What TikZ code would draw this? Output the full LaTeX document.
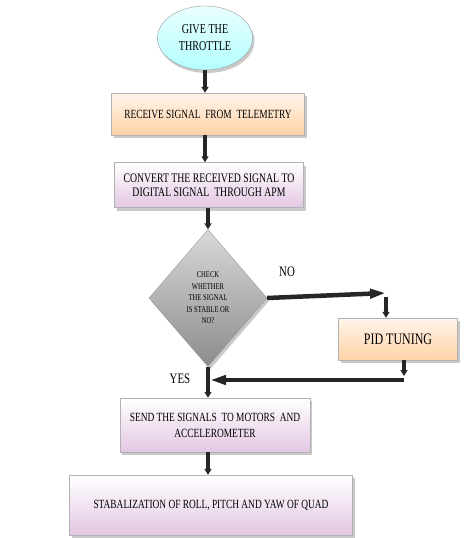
\documentclass[tikz,border=0pt]{standalone}
\usepackage{fontspec}
\setmainfont[FakeStretch=0.75]{Liberation Serif}
\usetikzlibrary{arrows.meta,shapes.geometric,shadows}
\tikzset{
  boxshadow/.style={drop shadow={shadow xshift=2pt,shadow yshift=-3pt,fill=black!35,opacity=.6}},
  orangebox/.style={draw=black!30,thin,rectangle,top color=orange!8,bottom color=orange!35!white,boxshadow,align=center,font=\fontsize{12.5}{14}\selectfont,inner sep=0pt},
  purplebox/.style={draw=black!30,thin,rectangle,top color=white,bottom color=violet!22!white,boxshadow,align=center,font=\fontsize{13}{14}\selectfont,inner sep=0pt},
  startell/.style={draw=black!40,thin,ellipse,top color=cyan!8,bottom color=cyan!30!white,boxshadow,align=center,font=\fontsize{13.5}{17}\selectfont,inner sep=0pt},
  decision/.style={draw=black!40,thin,diamond,top color=black!15,bottom color=black!45,shading angle=0,boxshadow,align=center,font=\fontsize{8.8}{11.5}\selectfont,inner sep=0pt,aspect=0.86},
  varrow/.style={-{Triangle[length=6pt,width=7pt]},line width=3.2pt,black!85},
  harrow/.style={-{Triangle[length=16pt,width=9pt]},line width=4.5pt,black!85},
  lbl/.style={font=\fontsize{14.5}{16}\selectfont}
}
\begin{document}
\begin{tikzpicture}[x=1pt,y=-1pt]
\useasboundingbox[fill=white] (0,0) rectangle (474,538);
\node[startell,minimum width=95pt,minimum height=64pt] (start) at (205,38) {GIVE THE\\THROTTLE};
\node[orangebox,minimum width=193pt,minimum height=42pt] (recv) at (208,114) {RECEIVE SIGNAL\ \ FROM\ \ TELEMETRY};
\node[purplebox,minimum width=189pt,minimum height=45pt] (conv) at (209,185) {CONVERT THE RECEIVED SIGNAL TO\\DIGITAL SIGNAL\ \ THROUGH APM};
\node[decision,minimum width=118pt,minimum height=137pt] (chk) at (208,298) {CHECK\\WHETHER\\THE SIGNAL\\IS STABLE OR\\NO?};
\node[orangebox,minimum width=119pt,minimum height=42pt,font=\fontsize{16}{18}\selectfont] (pid) at (398,339) {PID TUNING};
\node[purplebox,minimum width=190pt,minimum height=54pt,font=\fontsize{12.5}{16}\selectfont] (send) at (215,425) {SEND THE SIGNALS\ \ TO MOTORS\ \ AND\\ACCELEROMETER};
\node[purplebox,minimum width=283pt,minimum height=60pt,font=\fontsize{12.5}{14}\selectfont] (stab) at (211,505) {STABALIZATION OF ROLL, PITCH AND YAW OF QUAD};
\coordinate (c1) at (386,293);
\coordinate (c2) at (404,380);
\coordinate (c3) at (210,380);
\node[lbl] (no) at (287,272) {NO};
\node[lbl] (yes) at (180,379) {YES};
\draw[varrow] (start.south) -- (recv.north -| start.south);
\draw[varrow] (recv.south -| start.south) -- (conv.north -| start.south);
\draw[varrow] (conv.south -| chk.north) -- (chk.north);
\draw[harrow] (chk.east) -- (c1);
\draw[varrow] ([yshift=-4pt]c1) -- (pid.north -| c1);
\draw[varrow] (pid.south -| c2) -- ([yshift=4pt]c2);
\draw[harrow] (c2) -- (c3);
\draw[varrow] (chk.south) -- (send.north -| chk.south);
\draw[varrow] (send.south -| chk.south) -- (stab.north -| chk.south);
\end{tikzpicture}
\end{document}
